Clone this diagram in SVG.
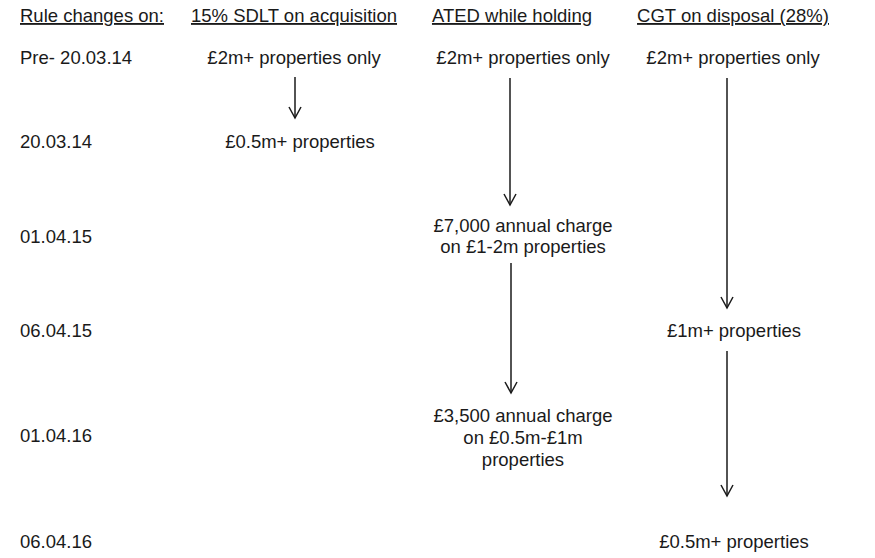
<svg xmlns="http://www.w3.org/2000/svg" width="875" height="558" viewBox="0 0 875 558">
<defs>
<style>
text{font-family:"Liberation Sans",Arial,sans-serif;font-size:18.5px;fill:#1a1a1a}
.c{text-anchor:middle}
.h{text-decoration:underline}
.ln{stroke:#1a1a1a;stroke-width:1.5;fill:none}
</style>
<marker id="ah" markerWidth="14" markerHeight="14" viewBox="-12 -7 14 14" refX="0" refY="0" orient="auto" markerUnits="userSpaceOnUse">
<path d="M-11,-6 L0,0 L-11,6" fill="none" stroke="#1a1a1a" stroke-width="1.5"/>
</marker>
</defs>
<rect width="875" height="558" fill="#fff"/>
<g id="headers">
<text x="20" y="22" class="h">Rule changes on:</text>
<text x="294" y="22" class="c h">15% SDLT on acquisition</text>
<text x="512" y="22" class="c h">ATED while holding</text>
<text x="733" y="22" class="c h">CGT on disposal (28%)</text>
</g>
<g id="dates">
<text x="20" y="64">Pre- 20.03.14</text>
<text x="20" y="148">20.03.14</text>
<text x="20" y="243">01.04.15</text>
<text x="20" y="337">06.04.15</text>
<text x="20" y="442">01.04.16</text>
<text x="20" y="548">06.04.16</text>
</g>
<g id="sdlt-pre"><text x="294" y="64" class="c">£2m+ properties only</text></g>
<g id="sdlt-200314"><text x="300" y="148" class="c">£0.5m+ properties</text></g>
<g id="ated-pre"><text x="523" y="64" class="c">£2m+ properties only</text></g>
<g id="ated-010415"><text x="523" y="232" class="c">£7,000 annual charge</text><text x="523" y="253" class="c">on £1-2m properties</text></g>
<g id="ated-010416"><text x="523" y="422" class="c">£3,500 annual charge</text><text x="523" y="444" class="c">on £0.5m-£1m</text><text x="523" y="466" class="c">properties</text></g>
<g id="cgt-pre"><text x="733" y="64" class="c">£2m+ properties only</text></g>
<g id="cgt-060415"><text x="734" y="337" class="c">£1m+ properties</text></g>
<g id="cgt-060416"><text x="734" y="548" class="c">£0.5m+ properties</text></g>
<g id="connectors">
<line class="ln" x1="295" y1="77" x2="295" y2="118" marker-end="url(#ah)"/>
<line class="ln" x1="510" y1="78" x2="510" y2="205" marker-end="url(#ah)"/>
<line class="ln" x1="511" y1="263" x2="511" y2="393" marker-end="url(#ah)"/>
<line class="ln" x1="727" y1="78" x2="727" y2="308" marker-end="url(#ah)"/>
<line class="ln" x1="727" y1="351" x2="727" y2="496" marker-end="url(#ah)"/>
</g>
</svg>
